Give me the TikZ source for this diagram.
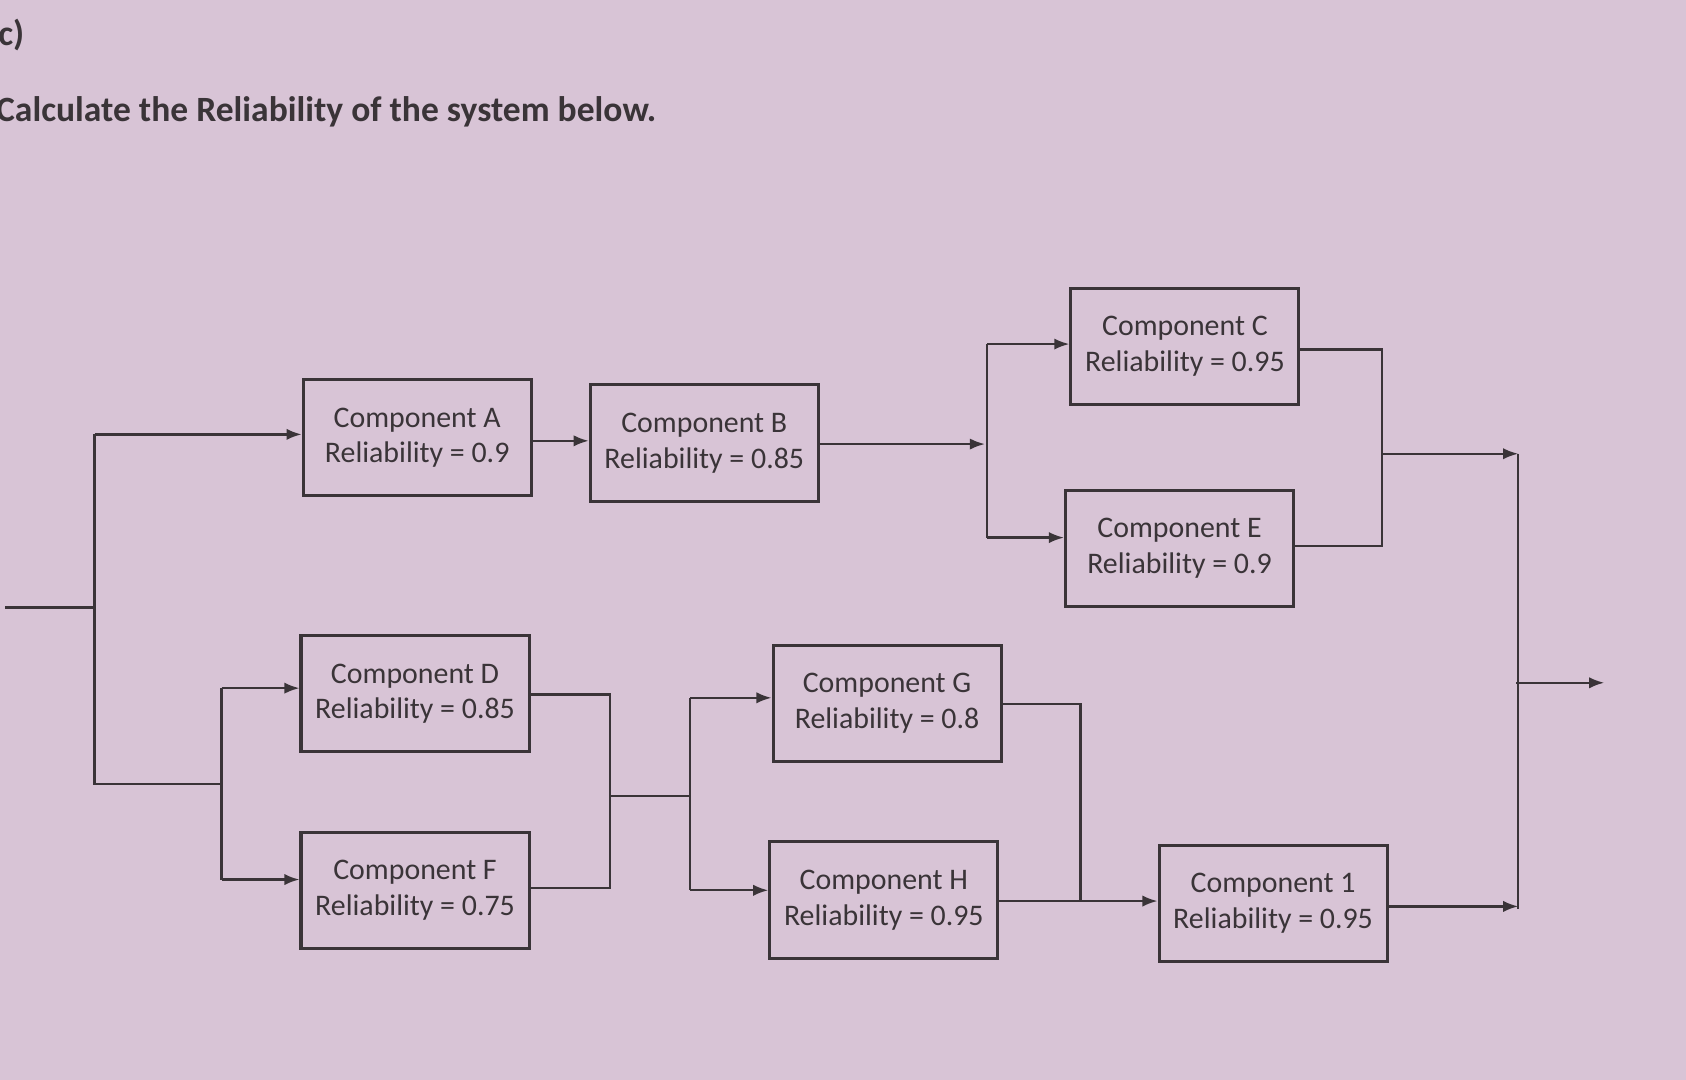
\documentclass[tikz,border=0pt]{standalone}
\usepackage{fontspec}
\setmainfont{Carlito}
\usetikzlibrary{arrows.meta}
\definecolor{bg}{HTML}{D8C4D6}
\definecolor{ink}{HTML}{3A3438}
\begin{document}
\begin{tikzpicture}[x=0.01cm,y=-0.01cm,
  comp/.style={draw=ink,line width=0.8pt,fill=bg,minimum width=2.12cm,minimum height=1.08cm,align=center,text=ink,font=\fontsize{7.9}{9.4}\selectfont,inner sep=0pt},
  wire/.style={draw=ink,line width=0.6pt},
  arr/.style={wire,-{Latex[length=4pt,width=3pt]}}]
\useasboundingbox (0,0) rectangle (1568,1004);
\clip (0,0) rectangle (1568,1004);
\fill[bg] (0,0) rectangle (1568,1004);
\node[anchor=west,text=ink,font=\fontsize{9.4}{11}\selectfont\bfseries] (c) at (-14,33) {c)};
\node[anchor=west,text=ink,font=\fontsize{9.4}{11}\selectfont\bfseries] (title) at (-16,104) {Calculate the Reliability of the system below.};
\node[comp] (A) at (388,407) {Component A\\Reliability = 0.9};
\node[comp] (B) at (655,412) {Component B\\Reliability = 0.85};
\node[comp] (C) at (1102,322) {Component C\\Reliability = 0.95};
\node[comp] (E) at (1097,510) {Component E\\Reliability = 0.9};
\node[comp] (D) at (386,645) {Component D\\Reliability = 0.85};
\node[comp] (F) at (386,828) {Component F\\Reliability = 0.75};
\node[comp] (G) at (825,654) {Component G\\Reliability = 0.8};
\node[comp] (H) at (822,837) {Component H\\Reliability = 0.95};
\node[comp] (I) at (1184,840) {Component 1\\Reliability = 0.95};
\coordinate (in) at (5,565);
\coordinate (out) at (1492,635);
\draw[wire] (in) -- (88,565);
\draw[wire] (88,404) -- (88,729) -- (206,729);
\draw[arr] (88,404) -- (A.west|-88,404);
\draw[wire] (206,640) -- (206,818);
\draw[arr] (206,640) -- (D.west|-206,640);
\draw[arr] (206,818) -- (F.west|-206,818);
\draw[arr] (A.east|-0,410) -- (B.west|-0,410);
\draw[arr] (B.east|-0,413) -- (916,413);
\draw[wire] (918,320) -- (918,500);
\draw[arr] (918,320) -- (C.west|-918,320);
\draw[arr] (918,500) -- (E.west|-918,500);
\draw[wire] (C.east|-0,325) -- (1285,325) -- (1285,508) -- (E.east|-0,508);
\draw[arr] (1285,422) -- (1412,422);
\draw[wire] (1412,422) -- (1412,845);
\draw[arr] (1410,635) -- (out);
\draw[wire] (D.east|-0,646) -- (567,646) -- (567,826) -- (F.east|-0,826);
\draw[wire] (567,740) -- (642,740);
\draw[wire] (642,649) -- (642,828);
\draw[arr] (642,649) -- (G.west|-642,649);
\draw[arr] (642,828) -- (H.west|-642,828);
\draw[wire] (G.east|-0,655) -- (1005,655) -- (1005,838);
\draw[arr] (H.east|-0,838) -- (I.west|-0,838);
\draw[arr] (I.east|-0,843) -- (1412,843);
\end{tikzpicture}
\end{document}
